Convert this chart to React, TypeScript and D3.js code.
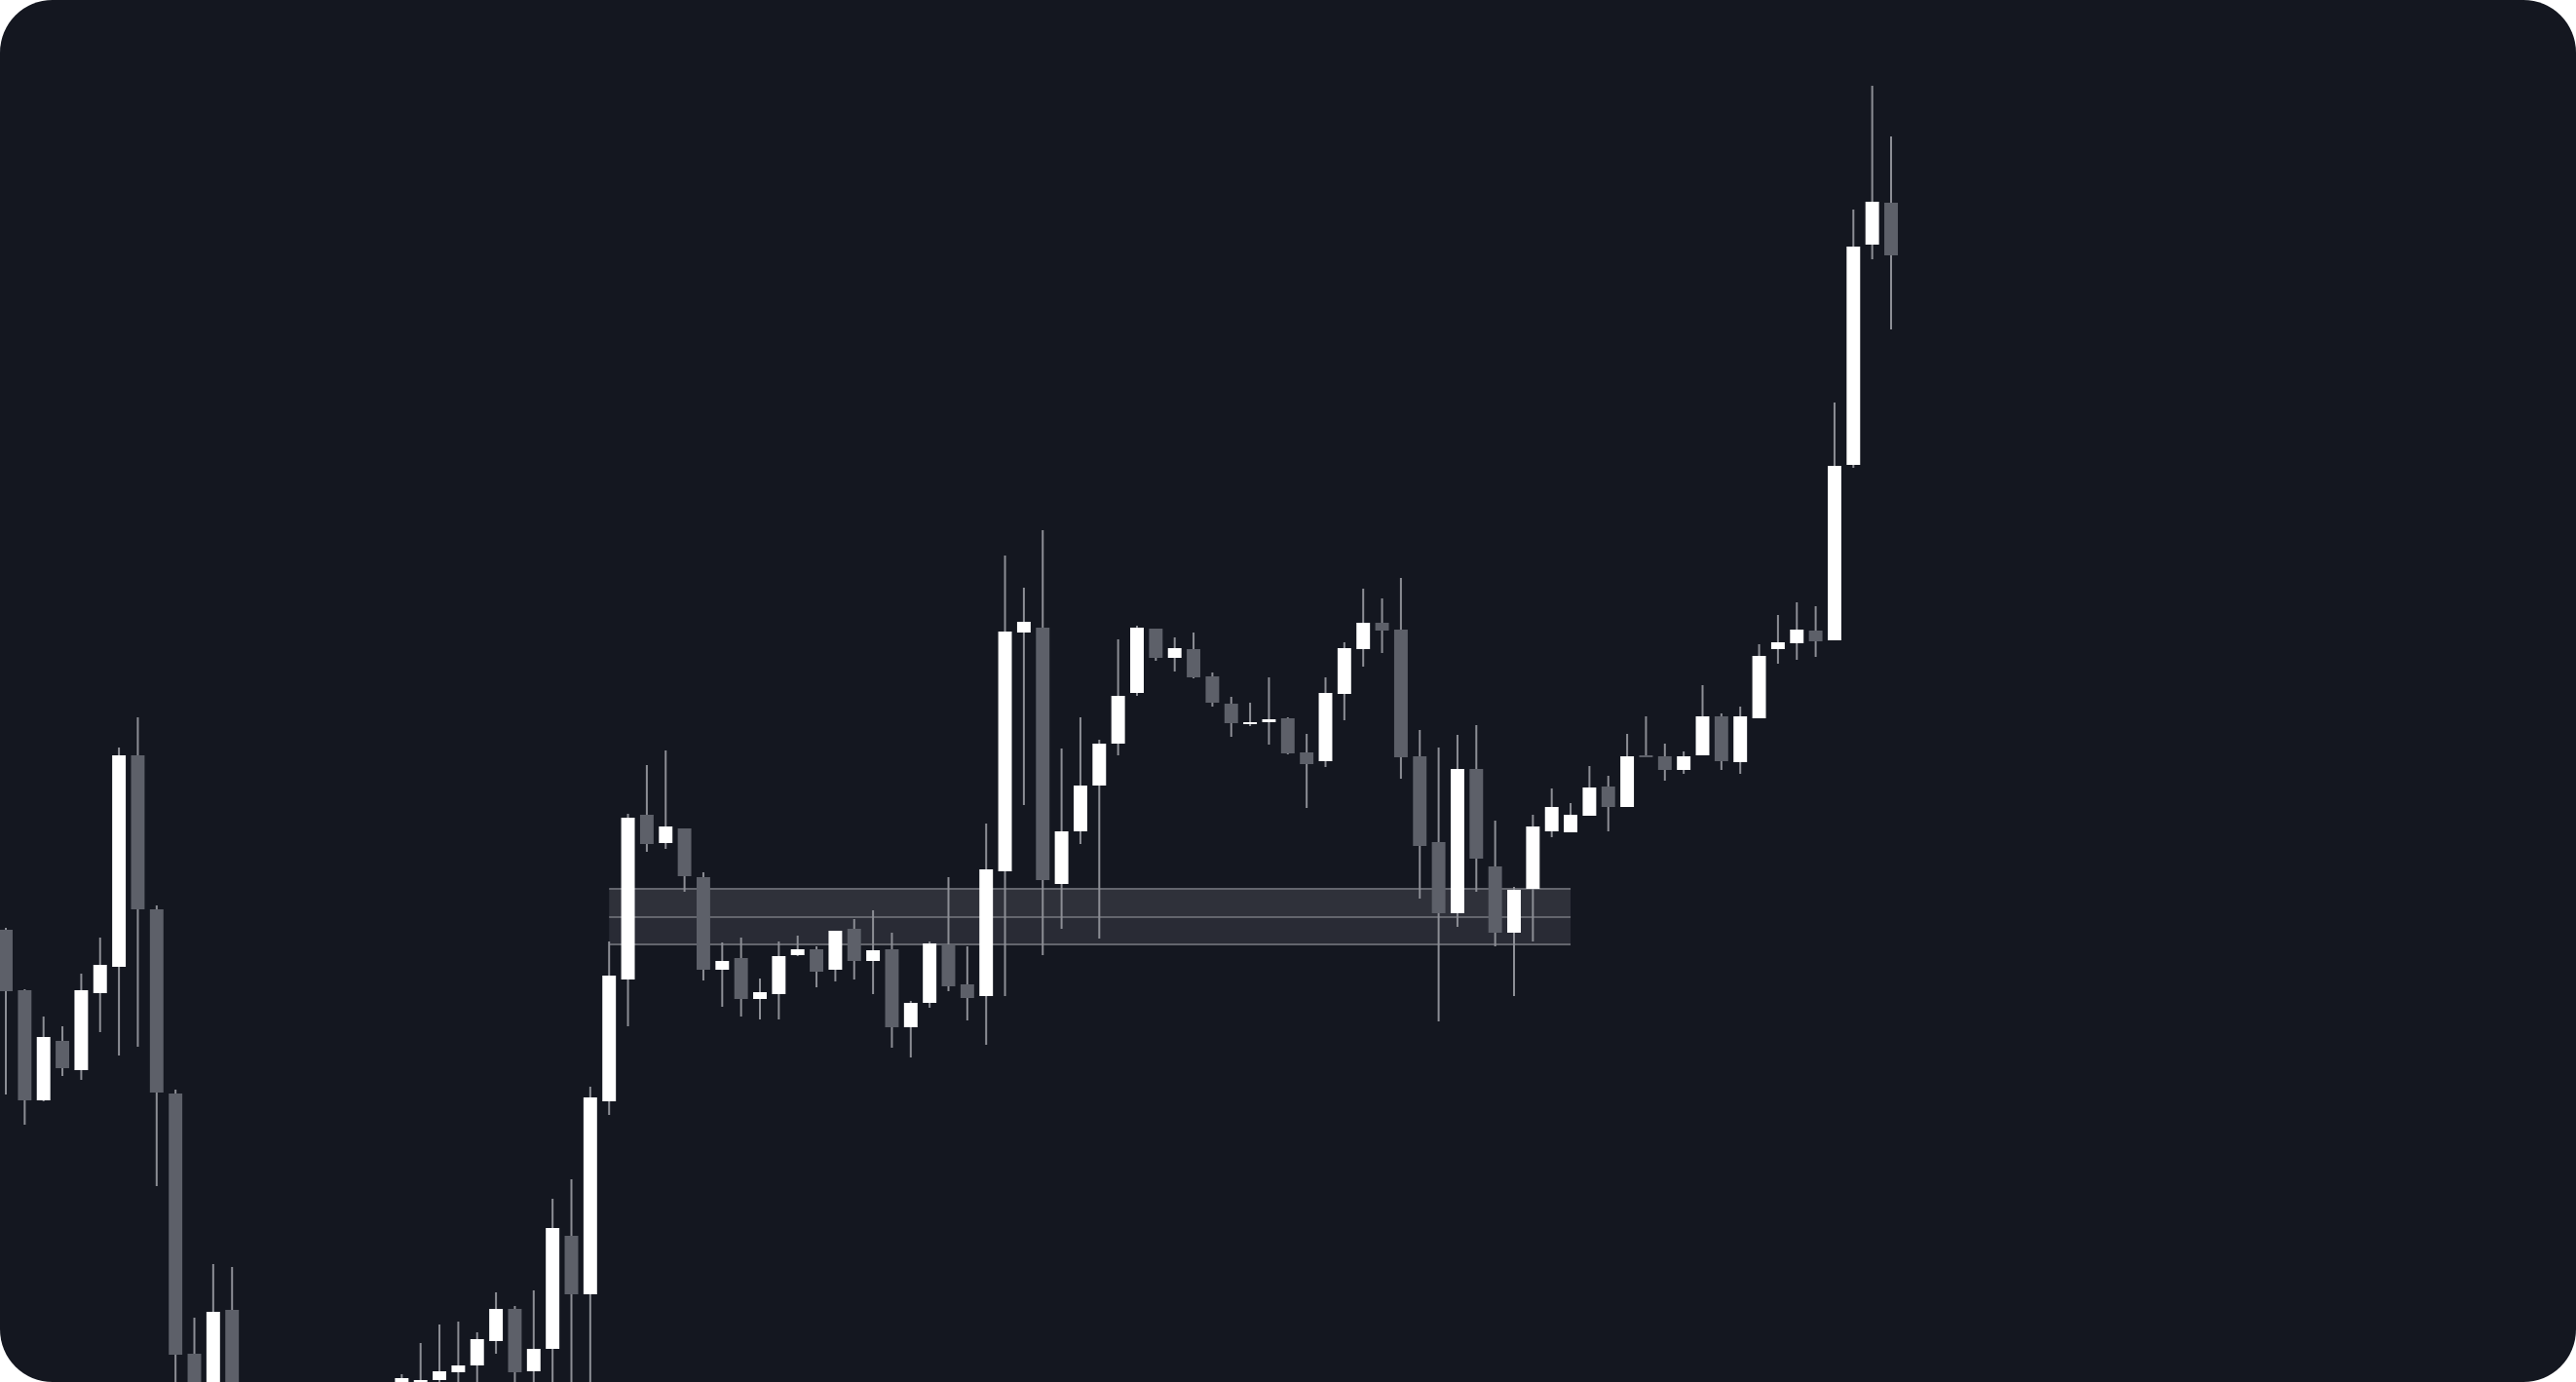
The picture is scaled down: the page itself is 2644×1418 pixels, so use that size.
import React, { useEffect, useRef } from "react";
import * as d3 from "d3";

// candle values (price units)
const opens = [
  146.4, 140.2, 128.9, 135.0, 132.0, 139.9, 142.6, 164.3, 148.5, 129.6,
  102.9, 96.5, 107.4, 97.5, 95.2, 93.8, 95.6, 94.0, 92.4, 94.7,
  96.3, 98.4, 99.3, 100.2, 101.0, 101.7, 104.2, 107.5, 101.1, 103.4,
  115.0, 109.0, 128.8, 141.3, 158.2, 155.3, 156.8, 151.8, 142.3, 143.5,
  139.3, 139.8, 143.8, 144.4, 142.3, 146.5, 143.2, 144.4, 136.4, 138.9,
  144.9, 140.8, 139.6, 152.4, 176.9, 177.4, 151.1, 156.5, 161.2, 165.5,
  170.7, 177.3, 174.3, 175.2, 172.4, 169.6, 167.5, 167.7, 168.1, 164.6,
  163.7, 170.6, 175.2, 177.9, 177.2, 164.2, 155.4, 148.1, 162.9, 152.9,
  146.1, 150.6, 156.5, 156.4, 158.1, 161.1, 159.0, 164.3, 164.2, 162.8,
  164.3, 168.3, 163.6, 168.1, 175.2, 175.8, 177.1, 176.1, 194.1, 216.7,
  221.0,
];
const highs = [
  146.6, 140.3, 137.5, 136.5, 141.9, 145.6, 165.1, 168.2, 148.9, 130.0,
  106.6, 112.1, 111.8, 98.6, 96.4, 96.9, 97.2, 95.1, 95.9, 97.8,
  99.0, 100.8, 104.0, 105.9, 106.2, 105.1, 109.2, 107.8, 109.4, 118.8,
  120.8, 130.3, 145.2, 158.3, 163.3, 164.8, 156.8, 152.3, 145.1, 145.6,
  141.4, 145.2, 145.8, 144.7, 146.3, 147.5, 148.4, 146.1, 139.1, 145.2,
  151.8, 144.7, 157.3, 184.8, 181.5, 187.4, 165.0, 168.2, 165.9, 176.2,
  177.6, 177.3, 176.4, 176.9, 172.8, 170.3, 169.7, 172.3, 168.2, 166.5,
  172.3, 175.9, 181.4, 180.4, 182.5, 166.9, 165.1, 166.4, 167.4, 157.6,
  150.8, 158.2, 160.9, 159.4, 163.2, 162.2, 166.5, 168.3, 165.5, 164.7,
  171.5, 168.6, 169.3, 175.7, 178.7, 180.0, 179.6, 200.5, 220.3, 233.0,
  227.8,
];
const lows = [
  129.5, 126.4, 128.8, 131.4, 131.0, 135.9, 133.5, 134.4, 120.1, 98.8,
  95.5, 95.0, 95.8, 94.1, 92.5, 93.0, 93.1, 91.2, 91.8, 94.0,
  95.4, 97.6, 98.2, 99.2, 99.5, 99.6, 102.9, 99.4, 99.7, 99.8,
  99.5, 99.9, 127.4, 136.5, 154.4, 154.7, 150.3, 141.2, 138.5, 137.5,
  137.2, 137.2, 143.7, 140.5, 141.1, 141.3, 139.8, 134.3, 133.3, 138.4,
  140.1, 137.1, 134.6, 139.6, 159.2, 143.8, 146.5, 155.2, 145.5, 164.3,
  170.4, 174.0, 172.9, 172.2, 169.3, 166.2, 167.3, 165.4, 164.4, 158.9,
  163.1, 167.9, 173.4, 174.8, 161.9, 149.6, 137.0, 146.7, 150.3, 144.7,
  139.6, 145.2, 155.9, 156.4, 158.1, 156.5, 159.0, 164.1, 161.7, 162.4,
  164.3, 162.8, 162.4, 168.1, 173.7, 174.1, 174.4, 176.1, 193.8, 215.2,
  208.0,
];
const closes = [
  140.1, 128.9, 135.4, 132.2, 140.2, 142.8, 164.3, 148.5, 129.7, 102.8,
  97.0, 107.2, 97.5, 95.2, 93.8, 95.6, 94.0, 92.4, 94.7, 96.3,
  97.9, 100.4, 100.2, 101.1, 101.7, 104.4, 107.5, 101.0, 103.4, 115.8,
  109.0, 129.2, 141.7, 157.9, 155.2, 157.0, 151.9, 142.3, 143.2, 139.3,
  140.0, 143.7, 144.4, 142.1, 146.3, 143.2, 144.3, 136.4, 138.9, 145.0,
  140.6, 139.4, 152.6, 177.0, 178.0, 151.5, 156.5, 161.2, 165.5, 170.4,
  177.4, 174.3, 175.3, 172.3, 169.7, 167.6, 167.7, 168.0, 164.5, 163.4,
  170.7, 175.3, 177.9, 177.1, 164.1, 155.0, 148.1, 162.9, 153.7, 146.1,
  150.5, 157.0, 159.0, 158.2, 161.0, 159.0, 164.2, 164.1, 162.8, 164.2,
  168.3, 163.7, 168.3, 174.5, 175.9, 177.2, 176.0, 194.0, 216.5, 221.1,
  215.6,
];

// support zone: price levels and the candle span it covers
const zoneTop = 150.6;
const zoneMid = 147.7;
const zoneBottom = 144.9;
const zoneStart = 32;
const zoneEnd = 83;

const W = 2644;
const H = 1418;

type Candle = { i: number; o: number; h: number; l: number; c: number };

const App = () => {
  const ref = useRef<SVGSVGElement>(null);

  useEffect(() => {
    const svg = d3.select(ref.current);
    svg.selectAll("*").remove();

    const data: Candle[] = opens.map((o, i) => ({
      i,
      o,
      h: highs[i],
      l: lows[i],
      c: closes[i],
    }));

    // scales
    const x = d3.scaleLinear().domain([0, data.length - 1]).range([6, 1941]);
    const y = d3.scaleLinear().domain([100, 241.8]).range([H, 0]);
    const bodyW = (x(1) - x(0)) * 0.72;

    svg
      .append("defs")
      .append("clipPath")
      .attr("id", "frame")
      .append("rect")
      .attr("width", W)
      .attr("height", H)
      .attr("rx", 54);

    svg
      .append("rect")
      .attr("width", W)
      .attr("height", H)
      .attr("rx", 54)
      .attr("fill", "#141720");

    const g = svg.append("g").attr("clip-path", "url(#frame)");

    // zone
    const zx0 = x(zoneStart);
    const zx1 = x(zoneEnd);
    g.append("rect")
      .attr("x", zx0)
      .attr("y", y(zoneTop))
      .attr("width", zx1 - zx0)
      .attr("height", y(zoneMid) - y(zoneTop))
      .attr("fill", "#2f313a");
    g.append("rect")
      .attr("x", zx0)
      .attr("y", y(zoneMid))
      .attr("width", zx1 - zx0)
      .attr("height", y(zoneBottom) - y(zoneMid))
      .attr("fill", "#292b35");
    g.selectAll("line.zone")
      .data([zoneTop, zoneMid, zoneBottom])
      .enter()
      .append("line")
      .attr("class", "zone")
      .attr("x1", zx0)
      .attr("x2", zx1)
      .attr("y1", (d) => y(d))
      .attr("y2", (d) => y(d))
      .attr("stroke", "#63656d")
      .attr("stroke-width", 2);

    // candles
    const candles = g
      .selectAll("g.candle")
      .data(data)
      .enter()
      .append("g")
      .attr("class", "candle");

    candles
      .append("line")
      .attr("x1", (d) => x(d.i))
      .attr("x2", (d) => x(d.i))
      .attr("y1", (d) => y(d.h))
      .attr("y2", (d) => y(d.l))
      .attr("stroke", "#8c8e95")
      .attr("stroke-width", 2);

    candles
      .append("rect")
      .attr("x", (d) => x(d.i) - bodyW / 2)
      .attr("y", (d) => y(Math.max(d.o, d.c)))
      .attr("width", bodyW)
      .attr("height", (d) => Math.max(2, Math.abs(y(d.o) - y(d.c))))
      .attr("fill", (d) => (d.c >= d.o ? "#ffffff" : "#5d6069"));
  }, []);

  return (
    <div style={{ position: "absolute", left: 0, top: 0, width: W, height: H }}>
      <svg ref={ref} width={W} height={H} style={{ display: "block" }} />
    </div>
  );
};

export default App;
